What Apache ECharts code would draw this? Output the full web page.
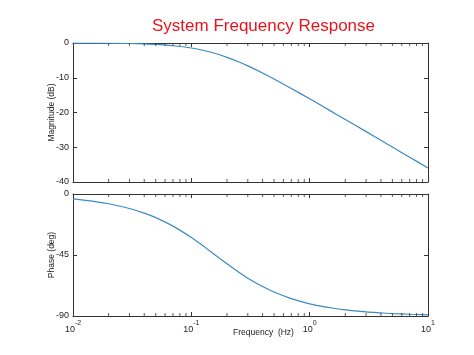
<!DOCTYPE html>
<html><head><meta charset="utf-8">
<script src="https://cdn.jsdelivr.net/npm/echarts@6/dist/echarts.min.js"></script>
<style>html,body{margin:0;padding:0;background:#fff}#c{width:474px;height:355px}</style>
</head><body><div id="c"></div>
<script>
var freq = [0.01,0.015,0.02,0.03,0.04,0.05,0.07,0.1,0.13,0.16,0.2,0.25,0.3,0.4,0.5,0.7,1,1.5,2,3,4,5,7,10];
var magnitudeDb = [-0.02,-0.04,-0.07,-0.15,-0.27,-0.41,-0.79,-1.44,-2.22,-3.03,-4.12,-5.40,-6.58,-8.64,-10.36,-13.09,-16.07,-19.53,-22.0,-25.5,-28.0,-29.95,-32.87,-35.96];
var phaseDeg = [-3.6,-5.4,-7.2,-10.7,-14.1,-17.4,-23.7,-32.1,-39.2,-45.2,-51.5,-57.5,-62.1,-68.3,-72.3,-77.2,-81.0,-83.9,-85.5,-87.0,-87.7,-88.2,-88.7,-89.1];
var minorTickFreq = [0.02,0.03,0.04,0.05,0.06,0.07,0.08,0.09,0.2,0.3,0.4,0.5,0.6,0.7,0.8,0.9,2,3,4,5,6,7,8,9];
var magTicks = [0,-10,-20,-30,-40];
var phaseTicks = [0,-45,-90];
var titleText = 'System Frequency Response';

var chart = echarts.init(document.getElementById('c'));
var axisCol = '#333';
var lineCol = '#3a8ac4';
var font = 'Arial, "Liberation Sans", sans-serif';

function xAx(gi, pos, labels) {
  return {
    type: 'log', logBase: 10, min: 0.01, max: 10, gridIndex: gi, position: pos,
    axisLine: {show: true, onZero: false, lineStyle: {color: axisCol, width: 1}},
    axisTick: {show: true, inside: true, length: 4, lineStyle: {color: axisCol}},
    splitLine: {show: false},
    axisLabel: labels ? {
      show: true, margin: 4, fontFamily: font, color: '#222',
      formatter: function (v) { var e = Math.round(Math.log10(v)); return '{b|10}{s|' + e + '}'; },
      rich: {b: {fontSize: 9, lineHeight: 14, fontFamily: font, color: '#222', verticalAlign: 'bottom'},
             s: {fontSize: 7, lineHeight: 14, fontFamily: font, color: '#222', verticalAlign: 'top'}}
    } : {show: false}
  };
}
function yAx(gi, pos, mn, mx, step, labels, name) {
  return {
    type: 'value', min: mn, max: mx, interval: step, gridIndex: gi, position: pos,
    axisLine: {show: true, onZero: false, lineStyle: {color: axisCol, width: 1}},
    axisTick: {show: true, inside: true, length: 4, lineStyle: {color: axisCol}},
    splitLine: {show: false},
    axisLabel: labels ? {show: true, fontSize: 9, fontFamily: font, color: '#222', margin: 4} : {show: false},
    name: name || '', nameLocation: 'middle', nameGap: 17, nameRotate: 90, nameMoveOverlap: false,
    nameTextStyle: {fontSize: 8.5, fontFamily: font, color: '#222'}
  };
}
function tickData(y) { return minorTickFreq.map(function (f) { return [f, y]; }); }
function minorSeries(xi, yi, y, off) {
  return {type: 'scatter', xAxisIndex: xi, yAxisIndex: yi, data: tickData(y), symbol: 'rect',
    symbolSize: [1, 3], symbolOffset: [0, off], itemStyle: {color: axisCol}, silent: true, clip: false, z: 5};
}

chart.setOption({
  animation: false,
  title: {text: titleText, left: 147, top: 13, textStyle: {color: '#e8141c', fontSize: 17, fontWeight: 'normal', fontFamily: font}},
  grid: [
    {left: 73, right: 46, top: 43, height: 139},
    {left: 73, right: 46, top: 194, height: 122}
  ],
  xAxis: [xAx(0, 'bottom', false), xAx(0, 'top', false), xAx(1, 'bottom', true), xAx(1, 'top', false)],
  yAxis: [
    yAx(0, 'left', -40, 0, 10, true, 'Magnitude (dB)'), yAx(0, 'right', -40, 0, 10, false),
    yAx(1, 'left', -90, 0, 45, true, 'Phase (deg)'), yAx(1, 'right', -90, 0, 45, false)
  ],
  graphic: [{type: 'text', left: 233, top: 328, style: {text: 'Frequency  (Hz)', fontSize: 8.5, fontFamily: font, fill: '#222'}}],
  series: [
    {type: 'line', xAxisIndex: 0, yAxisIndex: 0, data: freq.map(function (f, i) { return [f, magnitudeDb[i]]; }),
      showSymbol: false, smooth: 0.3, lineStyle: {color: lineCol, width: 1.2}, z: 3},
    {type: 'line', xAxisIndex: 2, yAxisIndex: 2, data: freq.map(function (f, i) { return [f, phaseDeg[i]]; }),
      showSymbol: false, smooth: 0.3, lineStyle: {color: lineCol, width: 1.2}, z: 3},
    minorSeries(0, 0, 0, 1.5), minorSeries(0, 0, -40, -1.5),
    minorSeries(2, 2, 0, 1.5), minorSeries(2, 2, -90, -1.5)
  ]
});
</script></body></html>
